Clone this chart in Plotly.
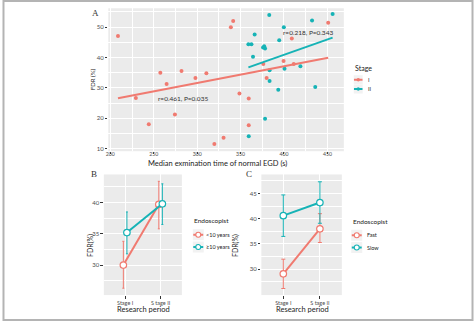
import numpy as np
import plotly.graph_objects as go

W, H = 474, 322
RED = "#F07A70"
TEAL = "#16B3B6"
PANEL_BG = "#EBEBEB"
TICK_TXT = "#4D4D4D"
FONT = "Lato"

# ---- Panel A: FDR vs median examination time, by stage ----
stage1_time = [208.8, 229.4, 244.3, 257.6, 264.8, 274.4, 282.0, 298.0, 310.6, 319.8, 330.4,
               338.8, 341.5, 348.7, 359.4, 359.4, 376.2, 380.0, 399.5, 409.0, 411.2, 450.9]
stage1_fdr = [47.1, 26.7, 18.1, 35.0, 31.3, 21.3, 35.6, 33.3, 34.8, 11.6, 13.6,
              50.0, 52.0, 28.2, 26.5, 17.7, 37.9, 33.3, 38.9, 46.3, 37.9, 51.4]
stage2_time = [383.0, 432.3, 456.0, 399.8, 366.2, 359.0, 362.5, 375.9, 378.2, 377.2, 394.5,
               364.3, 383.4, 400.6, 418.9, 383.4, 393.4, 436.0, 378.2, 359.4]
stage2_fdr = [54.0, 52.2, 54.3, 50.0, 47.6, 44.4, 44.4, 43.3, 43.0, 43.7, 45.7,
              40.3, 35.8, 36.3, 37.1, 32.3, 29.4, 30.3, 19.9, 14.1]
stat_labels = ["r=0.461, P=0.035", "r=0.218, P=0.343"]

# ---- Panel B: FDR by research period, endoscopist experience ----
periods = ["Stage I", "S tage II"]
lt10_mean = [30.0, 39.7]
lt10_low = [26.3, 35.8]
lt10_high = [33.8, 43.4]
ge10_mean = [35.2, 39.8]
ge10_low = [31.8, 36.5]
ge10_high = [38.5, 43.0]

# ---- Panel C: FDR by research period, endoscopist speed ----
fast_mean = [29.1, 38.0]
fast_low = [26.2, 35.3]
fast_high = [32.0, 41.0]
slow_mean = [40.6, 43.2]
slow_low = [36.5, 39.1]
slow_high = [44.7, 47.3]


def px_x(p):
    return p / W


def px_y(p):
    return 1 - p / H


fig = go.Figure()

# scatter points
fig.add_trace(go.Scatter(x=stage1_time, y=stage1_fdr, mode="markers",
                         marker=dict(color=RED, size=4), xaxis="x", yaxis="y", showlegend=False))
fig.add_trace(go.Scatter(x=stage2_time, y=stage2_fdr, mode="markers",
                         marker=dict(color=TEAL, size=4), xaxis="x", yaxis="y", showlegend=False))

# least-squares fit lines over each group's range
for xs, ys, col in [(stage1_time, stage1_fdr, RED), (stage2_time, stage2_fdr, TEAL)]:
    xs_a = np.array(xs)
    slope, intercept = np.polyfit(xs_a, np.array(ys), 1)
    xr = np.array([xs_a.min(), xs_a.max()])
    fig.add_trace(go.Scatter(x=xr, y=slope * xr + intercept, mode="lines",
                             line=dict(color=col, width=2), xaxis="x", yaxis="y",
                             showlegend=False))


def group_trace(mean, low, high, col, xa, ya, shift, capw):
    xpos = [i + 1 + shift for i in range(len(mean))]
    return go.Scatter(
        x=xpos, y=mean, mode="lines+markers", xaxis=xa, yaxis=ya, showlegend=False,
        line=dict(color=col, width=2),
        marker=dict(size=6.5, color="white", line=dict(color=col, width=1.2)),
        error_y=dict(type="data", symmetric=False,
                     array=[h - m for h, m in zip(high, mean)],
                     arrayminus=[m - l for m, l in zip(mean, low)],
                     color=col, thickness=1, width=capw),
    )


fig.add_trace(group_trace(lt10_mean, lt10_low, lt10_high, RED, "x2", "y2", -0.05, 1))
fig.add_trace(group_trace(ge10_mean, ge10_low, ge10_high, TEAL, "x2", "y2", 0.05, 1))
fig.add_trace(group_trace(fast_mean, fast_low, fast_high, RED, "x3", "y3", 0.0, 2))
fig.add_trace(group_trace(slow_mean, slow_low, slow_high, TEAL, "x3", "y3", 0.0, 2))

common_axis = dict(
    showgrid=True, gridcolor="white", gridwidth=1, zeroline=False, showline=False,
    ticks="outside", ticklen=2.5, tickwidth=1, tickcolor="#333333",
    tickfont=dict(family=FONT, size=6, color=TICK_TXT),
)
small_ticks = {**common_axis, "tickfont": dict(family=FONT, size=5.5, color=TICK_TXT)}
a_xticks = {**common_axis, "ticklen": 2, "tickfont": dict(family=FONT, size=5.2, color=TICK_TXT)}

fig.update_layout(
    width=W, height=H, margin=dict(l=0, r=0, t=0, b=0),
    paper_bgcolor="white", plot_bgcolor=PANEL_BG,
    font=dict(family=FONT, color="#222222"),
    xaxis=dict(domain=[px_x(106), px_x(343)], range=[197.7, 468.9],
               tickvals=[200, 250, 300, 350, 400, 450],
               minor=dict(tickvals=[225, 275, 325, 375, 425], showgrid=True,
                          gridcolor="white", gridwidth=0.5, ticks=""),
               ticklabelstandoff=-4, anchor="y", **a_xticks),
    yaxis=dict(domain=[px_y(151.7), px_y(8.3)], range=[9.2, 56.2],
               tickvals=[10, 20, 30, 40, 50],
               minor=dict(tickvals=[15, 25, 35, 45, 55], showgrid=True,
                          gridcolor="white", gridwidth=0.5, ticks=""),
               anchor="x", **common_axis),
    xaxis2=dict(domain=[px_x(101.5), px_x(180)], range=[0.4, 2.6],
                tickvals=[1, 2], ticktext=periods, anchor="y2", **small_ticks),
    yaxis2=dict(domain=[px_y(296), px_y(175)], range=[25.2, 44.5],
                tickvals=[30, 35, 40],
                minor=dict(tickvals=[27.5, 32.5, 37.5, 42.5], showgrid=True,
                           gridcolor="white", gridwidth=0.5, ticks=""),
                anchor="x2", **common_axis),
    xaxis3=dict(domain=[px_x(260), px_x(341)], range=[0.4, 2.6],
                tickvals=[1, 2], ticktext=periods, anchor="y3", **small_ticks),
    yaxis3=dict(domain=[px_y(296), px_y(175)], range=[24.9, 48.75],
                tickvals=[30, 35, 40, 45],
                minor=dict(tickvals=[27.5, 32.5, 37.5, 42.5, 47.5], showgrid=True,
                           gridcolor="white", gridwidth=0.5, ticks=""),
                anchor="x3", **common_axis),
)

ann = []
shapes = []


def text(x, y, s, size, xanchor="center", angle=0, family=FONT, color="#222222"):
    ann.append(dict(x=px_x(x), y=px_y(y), xref="paper", yref="paper", text=s,
                    showarrow=False, xanchor=xanchor, yanchor="middle", textangle=angle,
                    font=dict(family=family, size=size, color=color)))


# panel letters
text(92.7, 13.5, "A", 9, family="Liberation Serif", color="#333333")
text(91.7, 175, "B", 9, family="Liberation Serif", color="#333333")
text(247.3, 174.5, "C", 9, family="Liberation Serif", color="#333333")

# axis titles
text(215.5, 164, "Median exmination time of normal EGD (s)", 7.5)
text(90, 79, "FDR (%)", 6, angle=-90)
text(141.3, 310.7, "Research period", 7.5)
text(87.3, 246, "FDR(%)", 7, angle=-90)
text(301, 310.7, "Research period", 7.5)
text(233.3, 246, "FDR(%)", 7, angle=-90)

# correlation labels in data coordinates
ann.append(dict(x=284, y=26.5, xref="x", yref="y", text=stat_labels[0], showarrow=False,
                font=dict(family=FONT, size=6.5, color="#333333")))
ann.append(dict(x=428, y=48.1, xref="x", yref="y", text=stat_labels[1], showarrow=False,
                font=dict(family=FONT, size=6.5, color="#333333")))


def key_box(cx, cy, size):
    shapes.append(dict(type="rect", xref="paper", yref="paper",
                       x0=px_x(cx - size / 2), x1=px_x(cx + size / 2),
                       y0=px_y(cy + size / 2), y1=px_y(cy - size / 2),
                       fillcolor="#F2F2F2", line=dict(width=0), layer="below"))


def key_line(cx, cy, half, col):
    shapes.append(dict(type="line", xref="paper", yref="paper",
                       x0=px_x(cx - half), x1=px_x(cx + half), y0=px_y(cy), y1=px_y(cy),
                       line=dict(color=col, width=2)))


def key_circle(cx, cy, r, col, fill):
    shapes.append(dict(type="circle", xref="paper", yref="paper",
                       x0=px_x(cx - r), x1=px_x(cx + r), y0=px_y(cy + r), y1=px_y(cy - r),
                       fillcolor=fill, line=dict(color=col, width=1.1 if fill == "white" else 0)))


# legend: Stage
text(352, 68, "Stage", 7, xanchor="left")
for cy, col, lab in [(80, RED, "I"), (89.3, TEAL, "II")]:
    key_box(357.5, cy, 9)
    key_line(357.5, cy, 4.3, col)
    key_circle(357.5, cy, 1.7, col, col)
    text(365, cy, lab, 5.5, xanchor="left")

# legend: Endoscopist (experience)
text(190.5, 221.5, "Endoscopist", 6.5, xanchor="left")
for cy, col, lab in [(235.5, RED, "&lt;10 years"), (247.8, TEAL, "≥10 years")]:
    key_box(196.5, cy, 11)
    key_line(196.5, cy, 5, col)
    key_circle(196.5, cy, 2.5, col, "white")
    text(202.5, cy, lab, 5.5, xanchor="left")

# legend: Endoscopist (speed)
text(350, 221.8, "Endoscopist", 6.5, xanchor="left")
for cy, col, lab in [(236, RED, "Fast"), (248.3, TEAL, "Slow")]:
    key_box(356, cy, 11)
    key_line(356, cy, 5, col)
    key_circle(356, cy, 2.5, col, "white")
    text(364, cy, lab, 5.5, xanchor="left")

# outer frame
shapes.append(dict(type="rect", xref="paper", yref="paper",
                   x0=px_x(0.5), x1=px_x(472.5), y0=px_y(321), y1=px_y(1),
                   line=dict(color="#B4B4B4", width=2), fillcolor="rgba(0,0,0,0)"))

fig.update_layout(annotations=ann, shapes=shapes)
fig.write_html("out.html")
